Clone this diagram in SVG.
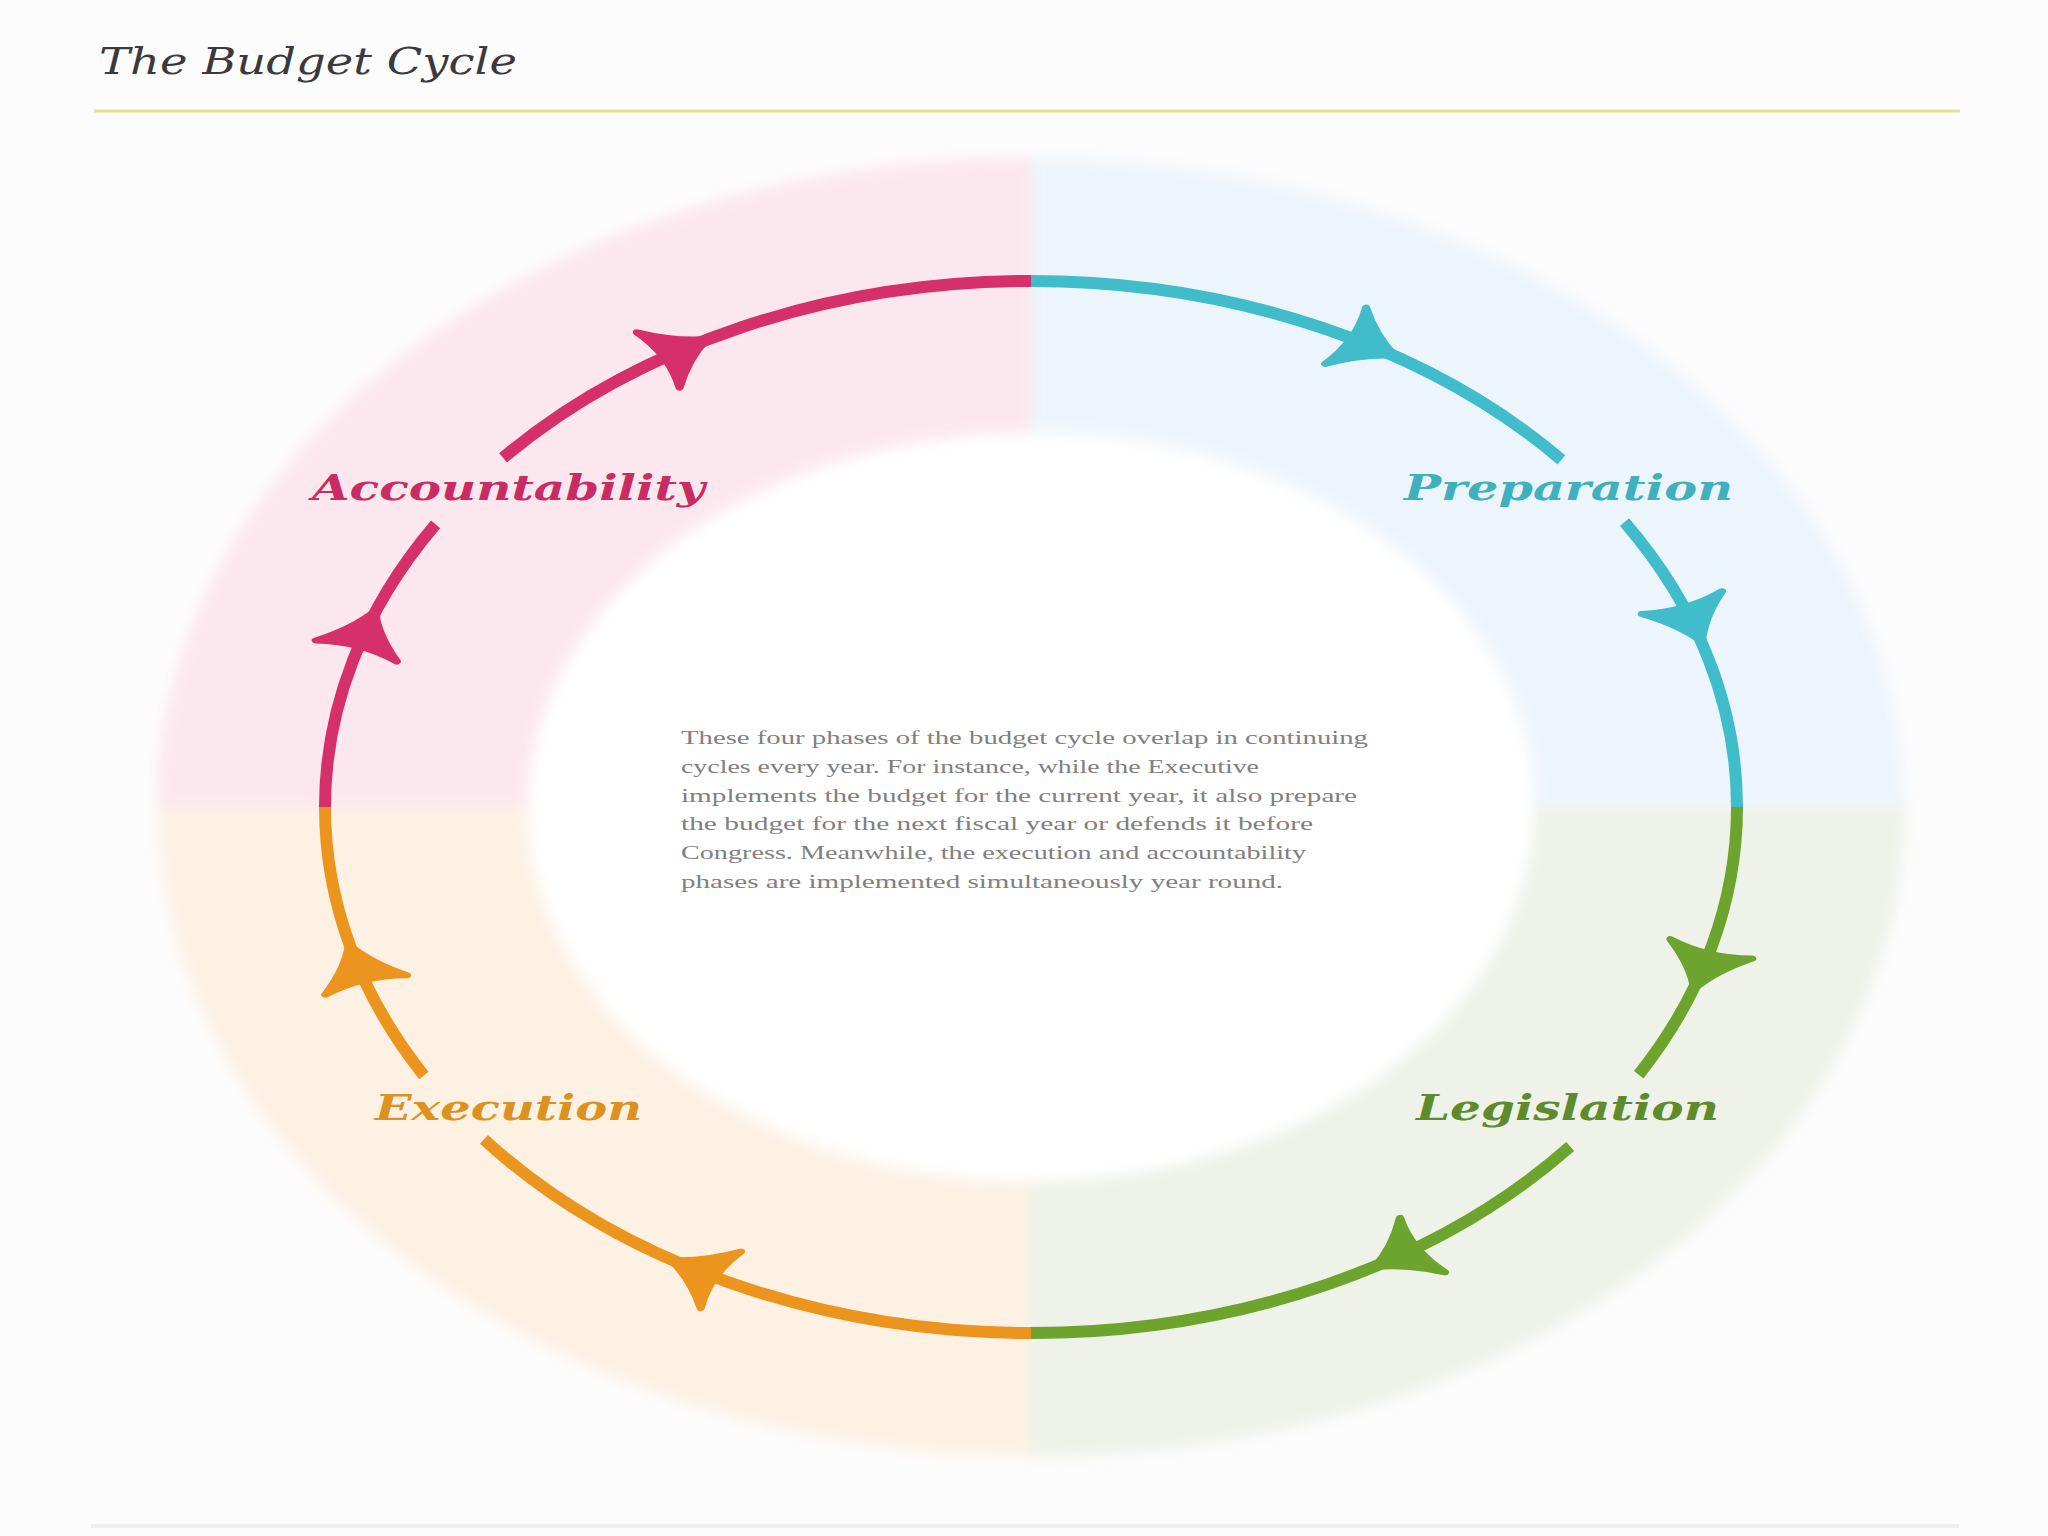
<svg xmlns="http://www.w3.org/2000/svg" width="2048" height="1536" viewBox="0 0 2048 1536">
  <defs>
    <style>
      .title { font-family: "DejaVu Serif", "Liberation Serif", serif; font-style: italic; font-size: 38px; fill: #3a3a3e; }
      .label { font-family: "DejaVu Serif", "Liberation Serif", serif; font-style: italic; font-weight: bold; font-size: 36px; }
      .body { font-family: "Liberation Serif", "Times New Roman", serif; font-size: 18px; fill: #808080; }
      .arc { fill: none; stroke-width: 12; stroke-linecap: butt; }
      .head { stroke-width: 6; stroke-linejoin: round; }
    </style>
    <filter id="soft" x="-10%" y="-10%" width="120%" height="120%">
      <feGaussianBlur stdDeviation="7"/>
    </filter>
    <clipPath id="outer">
      <ellipse cx="1031" cy="807" rx="874" ry="650"/>
    </clipPath>
    <path id="ah" d="M 24 0 Q 2 -10 -18 -32 Q -8 0 -18 32 Q 2 10 24 0 Z"/>
  </defs>

  <rect x="0" y="0" width="2048" height="1536" fill="#fdfcfd"/>

  <!-- title -->
  <g id="title">
    <text class="title" x="99" y="74" textLength="418" lengthAdjust="spacingAndGlyphs">The Budget Cycle</text>
    <line x1="94" y1="111" x2="1960" y2="111" stroke="#e2e28c" stroke-width="3"/>
  </g>

  <!-- pastel quadrant ring -->
  <g id="background-ring" filter="url(#soft)">
    <g clip-path="url(#outer)">
      <rect x="150" y="150" width="881" height="657" fill="#fce7ee"/>
      <rect x="1031" y="150" width="881" height="657" fill="#edf5fc"/>
      <rect x="1031" y="807" width="881" height="657" fill="#eef2e8"/>
      <rect x="150" y="807" width="881" height="657" fill="#fdf1e4"/>
    </g>
    <ellipse cx="1031" cy="807" rx="503" ry="374" fill="#ffffff"/>
  </g>

  <!-- connectors: cycle arcs -->
  <g id="connectors">
    <g id="arc-accountability" stroke="#d5306a" fill="#d5306a">
      <path class="arc" d="M 325 807 A 706 526 0 0 1 435.6 524.4"/>
      <path class="arc" d="M 503.1 457.8 A 706 526 0 0 1 1031 281"/>
      <use href="#ah" class="head" transform="translate(364.3 634) scale(1.342 1) rotate(289.2)"/>
      <use href="#ah" class="head" transform="translate(679.1 351) scale(1.342 1) rotate(330.1)"/>
    </g>
    <g id="arc-preparation" stroke="#40bccb" fill="#40bccb">
      <path class="arc" d="M 1031 281 A 706 526 0 0 1 1561.4 459.8"/>
      <path class="arc" d="M 1624.5 522.1 A 706 526 0 0 1 1737 807"/>
      <use href="#ah" class="head" transform="translate(1366.8 344.3) scale(1.342 1) rotate(388.4)"/>
      <use href="#ah" class="head" transform="translate(1690.5 619.4) scale(1.342 1) rotate(429.1)"/>
    </g>
    <g id="arc-legislation" stroke="#6da42e" fill="#6da42e">
      <path class="arc" d="M 1737 807 A 706 526 0 0 1 1638.7 1074.7"/>
      <path class="arc" d="M 1570.2 1146.5 A 706 526 0 0 1 1031 1333"/>
      <use href="#ah" class="head" transform="translate(1704 966.1) scale(1.342 1) rotate(107.6)"/>
      <use href="#ah" class="head" transform="translate(1402 1254.5) scale(1.342 1) rotate(148.3)"/>
    </g>
    <g id="arc-execution" stroke="#eb951f" fill="#eb951f">
      <path class="arc" d="M 1031 1333 A 706 526 0 0 1 483.9 1139.4"/>
      <path class="arc" d="M 423.9 1075.5 A 706 526 0 0 1 325 807"/>
      <use href="#ah" class="head" transform="translate(699.5 1271.4) scale(1.342 1) rotate(208)"/>
      <use href="#ah" class="head" transform="translate(358.8 967.8) scale(1.342 1) rotate(252.2)"/>
    </g>
  </g>

  <!-- phase labels -->
  <g id="node-accountability">
    <text class="label" x="312" y="500" fill="#c92c63" textLength="393" lengthAdjust="spacingAndGlyphs">Accountability</text>
  </g>
  <g id="node-preparation">
    <text class="label" x="1404" y="500" fill="#3fb0be" textLength="329" lengthAdjust="spacingAndGlyphs">Preparation</text>
  </g>
  <g id="node-legislation">
    <text class="label" x="1416" y="1120" fill="#5e8c2c" textLength="303" lengthAdjust="spacingAndGlyphs">Legislation</text>
  </g>
  <g id="node-execution">
    <text class="label" x="375" y="1120" fill="#dd921f" textLength="267" lengthAdjust="spacingAndGlyphs">Execution</text>
  </g>

  <!-- center description -->
  <g id="description">
    <text class="body" x="681" y="744" textLength="687" lengthAdjust="spacingAndGlyphs">These four phases of the budget cycle overlap in continuing</text>
    <text class="body" x="681" y="773" textLength="578" lengthAdjust="spacingAndGlyphs">cycles every year. For instance, while the Executive</text>
    <text class="body" x="681" y="802" textLength="676" lengthAdjust="spacingAndGlyphs">implements the budget for the current year, it also prepare</text>
    <text class="body" x="681" y="830" textLength="632" lengthAdjust="spacingAndGlyphs">the budget for the next fiscal year or defends it before</text>
    <text class="body" x="681" y="859" textLength="625" lengthAdjust="spacingAndGlyphs">Congress. Meanwhile, the execution and accountability</text>
    <text class="body" x="681" y="888" textLength="602" lengthAdjust="spacingAndGlyphs">phases are implemented simultaneously year round.</text>
  </g>

  <line x1="91" y1="1526" x2="1959" y2="1526" stroke="#efedf2" stroke-width="4"/>
</svg>
